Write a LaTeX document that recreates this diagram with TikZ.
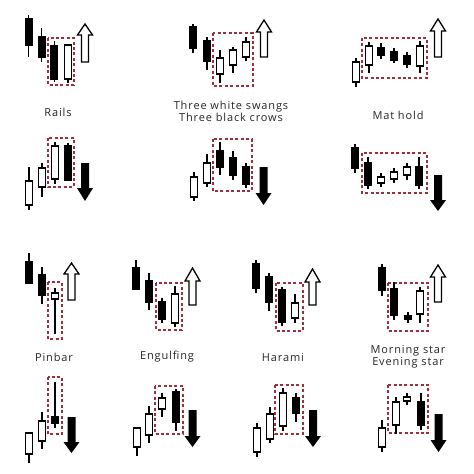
\documentclass[tikz,border=0pt]{standalone}
\usepackage{fontspec}
\setmainfont{Open Sans}[LetterSpace=8]
\definecolor{boxred}{RGB}{160,45,60}
\newcommand{\bodyhalf}{3.5}
% one candle: fill, x, wick top, body top, body bottom, wick bottom
\newcommand{\candle}[6]{%
    \draw[wick] (#2,#3) -- (#2,#6);
    \filldraw[wick,fill=#1] (#2-\bodyhalf,#4) rectangle (#2+\bodyhalf,#5);
}
% hollow up arrow: x centre, tip, head base, bottom
\newcommand{\uparr}[4]{%
    \draw[wick,fill=white] (#1,#2) -- (#1+7.5,#3) -- (#1+3.5,#3) -- (#1+3.5,#4)
        -- (#1-3.5,#4) -- (#1-3.5,#3) -- (#1-7.5,#3) -- cycle;
}
% filled down arrow: x centre, top, head base, tip
\newcommand{\downarr}[4]{%
    \fill[black] (#1-4,#2) -- (#1+4,#2) -- (#1+4,#3) -- (#1+8,#3) -- (#1,#4)
        -- (#1-8,#3) -- (#1-4,#3) -- cycle;
}
% dashed frame round the pattern
\newcommand{\pattbox}[4]{%
    \draw[pattern box] (#1,#2) rectangle (#3,#4);
}

\begin{document}
\begin{tikzpicture}[x=1pt,y=-1pt,
    wick/.style={line width=1.3pt,black},
    pattern box/.style={line width=1.4pt,boxred,dash pattern=on 3pt off 2.4pt},
    lbl/.style={font=\fontsize{11}{12}\selectfont,text=black!85,align=center,inner sep=0pt}]

\fill[white] (0,0) rectangle (474,474);
\useasboundingbox (0,0) rectangle (474,474);

% ---- upper block: bullish row ----
% rails
\pattbox{48}{38}{74}{85}
\foreach \col/\x/\wt/\bt/\bb/\wb in {black/28.7/15/19/45/57, black/41.7/28/37/57/62,
    black/54.3/41/46/79/82, white/68/45/45/79/83}
    {\candle{\col}{\x}{\wt}{\bt}{\bb}{\wb}}
\uparr{85}{24}{35}{62}

% three white soldiers
\pattbox{213}{33}{253}{86}
\foreach \col/\x/\wt/\bt/\bb/\wb in {black/193/24/27/48/53, black/207/37/41/61/70,
    white/220/50/58/74/83, white/233/47/50/65/73, white/246/37/42/57/61}
    {\candle{\col}{\x}{\wt}{\bt}{\bb}{\wb}}
\uparr{264}{20}{32}{57}

% mat hold
\pattbox{362}{38}{427}{78}
\foreach \col/\x/\wt/\bt/\bb/\wb in {white/356/58/62/82/87, white/369/42/46/65/73,
    black/381/43/48/55/59, black/394/48/52/60/63, black/407/52/56/64/68,
    white/420/41/46/66/73}
    {\candle{\col}{\x}{\wt}{\bt}{\bb}{\wb}}
\uparr{438}{19}{31}{57}

% labels
\node[lbl] (lblrails) at (58,112) {Rails};
\node[lbl] (lblthree) at (231,111) {Three white swangs\\Three black crows};
\node[lbl] (lblmat) at (398,115) {Mat hold};

% ---- upper block: bearish row ----
\pattbox{48}{138}{74}{187}
\foreach \col/\x/\wt/\bt/\bb/\wb in {white/29/167/181/205/210, white/42/163/168/187/197,
    white/55/142/146/179/184, black/68/143/146/180/180}
    {\candle{\col}{\x}{\wt}{\bt}{\bb}{\wb}}
\downarr{85}{163}{188}{201}

\pattbox{213}{139}{252}{191}
\foreach \col/\x/\wt/\bt/\bb/\wb in {white/194/172/177/197/201, white/207/154/163/183/187,
    black/220/142/151/167/175, black/233/151/158/175/180, black/246/163/167/184/188}
    {\candle{\col}{\x}{\wt}{\bt}{\bb}{\wb}}
\downarr{263.5}{167}{193}{205}

\pattbox{362}{153}{427}{193}
\foreach \col/\x/\wt/\bt/\bb/\wb in {black/355/144/148/168/173, black/368/157/163/185/189,
    white/381/173/177/183/187, white/394/168/172/179/183, white/407/163/167/175/180,
    black/419/157/167/185/189}
    {\candle{\col}{\x}{\wt}{\bt}{\bb}{\wb}}
\downarr{438}{175}{200}{211}

% ---- lower block: bullish row ----
% pinbar
\pattbox{48}{282}{62}{339}
\foreach \col/\x/\wt/\bt/\bb/\wb in {black/29/253/262/283/283, black/42/267/275/295/304,
    white/55/288/293/299/334}
    {\candle{\col}{\x}{\wt}{\bt}{\bb}{\wb}}
\uparr{71.5}{263}{274}{300}

% engulfing
\pattbox{156}{283}{182}{330}
\foreach \col/\x/\wt/\bt/\bb/\wb in {black/136/260/268/289/289, black/149/273/281/302/310,
    black/162/298/302/319/323, white/175/286/294/323/327}
    {\candle{\col}{\x}{\wt}{\bt}{\bb}{\wb}}
\uparr{192.5}{268}{281}{305}

% harami
\pattbox{276}{283}{303}{331}
\foreach \col/\x/\wt/\bt/\bb/\wb in {black/256/260/264/288/293, black/269/273/277/302/311,
    black/282/287/290/322/326, white/295/294/303/318/323}
    {\candle{\col}{\x}{\wt}{\bt}{\bb}{\wb}}
\uparr{312.5}{269}{282}{305}

% morning star
\pattbox{388}{283}{428}{331}
\foreach \col/\x/\wt/\bt/\bb/\wb in {black/382/264/268/290/296, black/394/282/289/315/320,
    black/408/312/316/319/323, white/420/287/291/314/323}
    {\candle{\col}{\x}{\wt}{\bt}{\bb}{\wb}}
\uparr{438}{265}{277}{302}

% labels
\node[lbl] (lblpin) at (54,357) {Pinbar};
\node[lbl] (lblengulf) at (167,357) {Engulfing};
\node[lbl] (lblharami) at (283,358) {Harami};
\node[lbl] (lblstar) at (408,356.5) {Morning star\\Evening star};

% ---- lower block: bearish row ----
\pattbox{48}{377}{62}{434}
\foreach \col/\x/\wt/\bt/\bb/\wb in {white/29/433/433/454/463, white/42/412/421/441/449,
    black/55/382/417/423/428}
    {\candle{\col}{\x}{\wt}{\bt}{\bb}{\wb}}
\downarr{71.5}{417}{442}{453}

\pattbox{155}{386}{183}{434}
\foreach \col/\x/\wt/\bt/\bb/\wb in {white/137/428/428/447/456, white/149/406/414/435/443,
    white/162/393/398/409/417, black/176/389/392/422/431}
    {\candle{\col}{\x}{\wt}{\bt}{\bb}{\wb}}
\downarr{192.5}{410}{436}{447}

\pattbox{275}{385}{303}{434}
\foreach \col/\x/\wt/\bt/\bb/\wb in {white/257/423/428/452/457, white/270/407/414/439/443,
    white/283/388/393/426/431, black/296/393/398/413/422}
    {\candle{\col}{\x}{\wt}{\bt}{\bb}{\wb}}
\downarr{313}{410}{436}{447}

\pattbox{388}{385}{428}{433}
\foreach \col/\x/\wt/\bt/\bb/\wb in {white/382/420/428/447/452, white/396/397/402/425/434,
    white/407/393/397/401/405, black/421/393/402/425/430}
    {\candle{\col}{\x}{\wt}{\bt}{\bb}{\wb}}
\downarr{438.5}{414}{440}{452}

\end{tikzpicture}
\end{document}
